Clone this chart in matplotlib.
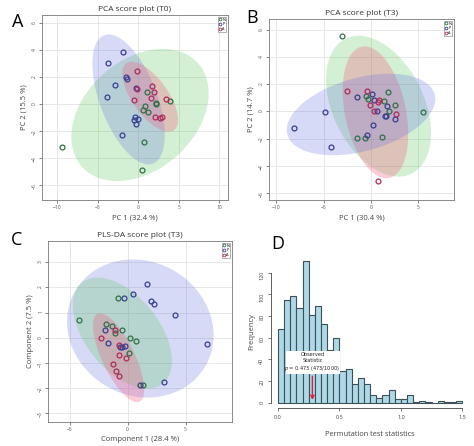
import numpy as np
import matplotlib
matplotlib.use("Agg")
import matplotlib.pyplot as plt
from matplotlib.lines import Line2D
from matplotlib.patches import Rectangle

W, H = 474, 446
plt.rcParams['font.family'] = ['Open Sans', 'DejaVu Sans']

groups = ["N", "P", "A"]
edge_cols = {"N": "#2f7046", "P": "#363e92", "A": "#ad2b58"}
fill_cols = {"N": (0.35, 0.78, 0.35, 0.26), "P": (0.35, 0.40, 0.88, 0.24), "A": (0.95, 0.35, 0.50, 0.30)}

# panel A: PCA T0 scores
a_N = [(-9.47, -3.15), (0.74, -2.78), (0.45, -4.85), (0.82, -0.15), (0.58, -0.44),
       (1.03, 0.89), (2.14, 0.10), (2.14, 0.0), (1.15, -0.59), (3.87, 0.25)]
a_P = [(-1.85, 3.87), (-3.74, 3.0), (-2.84, 1.43), (-3.87, 0.49), (-1.48, 2.0), (-1.44, 1.82),
       (-0.25, 1.18), (-0.45, -0.99), (-0.04, -1.13), (-0.53, -1.18), (-0.25, -1.48), (-2.0, -2.27)]
a_A = [(-0.2, 2.41), (1.65, 1.33), (1.89, 0.89), (1.52, 0.47), (-0.58, 0.32), (-0.12, 1.08),
       (2.1, -0.94), (3.46, 0.34), (2.67, -1.06), (2.88, -0.94)]
# ellipse: centre x, centre y, half-width, half-height, correlation
a_ell = {"N": (0.2, -0.81, 8.48, 4.88, 0.33), "P": (-1.21, 0.34, 4.47, 4.8, -0.55),
         "A": (1.46, 0.54, 3.44, 2.59, -0.66)}

# panel B: PCA T3 scores
b_N = [(-3.05, 5.51), (5.44, -0.07), (1.82, 1.42), (1.33, 0.78), (2.53, 0.49), (1.86, 0.0),
       (-0.53, 1.15), (-0.28, 0.93), (-1.44, -1.96), (-0.63, -1.96), (1.12, -1.84)]
b_P = [(-8.1, -1.25), (-4.84, -0.07), (-4.18, -2.6), (-1.51, 1.05), (0.14, 1.27), (0.35, 0.83),
       (1.68, 0.42), (0.63, 0.05), (1.47, -0.34), (1.58, -0.3), (0.25, -1.0), (-0.39, -1.72), (2.56, -0.56)]
b_A = [(-2.56, 1.47), (-0.46, 1.47), (0.88, 0.86), (0.74, 0.66), (-0.1, 0.51), (0.28, 0.0),
       (2.63, -0.22), (0.77, -5.12)]
b_ell = {"N": (0.79, 0.39, 5.53, 5.17, -0.38), "P": (-1.05, -0.22, 7.82, 2.99, 0.38),
         "A": (0.47, -0.06, 3.45, 4.84, -0.33)}

# panel C: PLS-DA T3 scores
c_N = [(-4.17, 0.69), (-0.86, 1.58), (-1.9, 0.56), (-1.32, 0.45), (-1.12, 0.2), (-0.49, 0.32),
       (0.23, -0.01), (0.75, -0.15), (0.09, -0.62), (1.32, -1.87)]
c_P = [(1.64, 2.12), (0.43, 1.74), (-0.29, 1.57), (2.01, 1.46), (2.27, 1.33), (4.05, 0.92),
       (6.84, -0.24), (3.1, -1.75), (-1.98, 0.31), (-1.67, -0.21), (-0.69, -0.37), (-0.49, -0.36),
       (-0.23, -0.33), (1.09, -1.9)]
c_A = [(-2.3, -0.01), (-1.06, 0.31), (-0.78, -0.28), (-0.75, -0.69), (-0.11, -0.82),
       (-1.24, -1.05), (-0.98, -1.31), (-0.75, -1.51)]
c_ell = {"P": (1.09, 0.365, 6.32, 2.75, -0.1), "N": (-0.45, 0.18, 4.27, 2.21, -0.5),
         "A": (-0.78, -0.8, 2.21, 1.77, -0.72)}

# panel D: permutation histogram
bin_edges = np.arange(0, 1.5001, 0.05)
counts = [68, 95, 98, 87, 131, 81, 89, 73, 49, 60, 29, 31, 17, 23, 17, 7, 4, 7, 12, 3,
          3, 7, 1, 2, 1, 0, 2, 1, 1, 2]
obs_stat = 0.28


def box(l, t, r, b):
    return [l / W, 1 - b / H, (r - l) / W, (b - t) / H]


def ellipse(ax, p, color):
    cx, cy, hx, hy, r = p
    t = np.linspace(0, 2 * np.pi, 300)
    x = cx + hx * np.cos(t)
    y = cy + hy * (r * np.cos(t) + np.sqrt(1 - r * r) * np.sin(t))
    ax.fill(x, y, color=color, lw=0, zorder=1)


def score_panel(ax, pts, ells, order, title, xl, yl, xlim, ylim, xt, yt):
    for g in order:
        ellipse(ax, ells[g], fill_cols[g])
    for g in groups:
        arr = np.array(pts[g])
        ax.plot(arr[:, 0], arr[:, 1], 'o', ms=3.5, mfc='none', mec=edge_cols[g], mew=0.9, zorder=3)
    ax.set_xlim(xlim)
    ax.set_ylim(ylim)
    ax.set_xticks(xt)
    ax.set_yticks(yt)
    ax.grid(True, color='#e3e3e3', lw=0.6, zorder=0)
    ax.set_axisbelow(True)
    ax.tick_params(labelsize=3.6, colors='#555555', length=2, width=0.5, pad=1.5)
    ax.tick_params(axis='y', labelrotation=90)
    for s in ax.spines.values():
        s.set_color('#777777')
        s.set_linewidth(0.6)
    ax.set_title(title, fontsize=6, color='#333333', pad=3)
    ax.set_xlabel(xl, fontsize=5.5, color='#444444', labelpad=3)
    ax.set_ylabel(yl, fontsize=5.5, color='#444444', labelpad=3)
    handles = [Line2D([], [], ls='none', marker='o', ms=2, mfc='none', mec=edge_cols[g], mew=0.6, label=g)
               for g in groups]
    leg = ax.legend(handles=handles, loc='upper right', fontsize=2.8, handlelength=0.6, handletextpad=0.3,
                    borderpad=0.3, labelspacing=0.15, frameon=True, fancybox=False, borderaxespad=0.4)
    leg.get_frame().set_linewidth(0.4)
    leg.get_frame().set_edgecolor('#555555')


fig = plt.figure(figsize=(W / 100, H / 100), dpi=100)

axA = fig.add_axes(box(42, 15, 228, 200))
score_panel(axA, {"N": a_N, "P": a_P, "A": a_A}, a_ell, ["N", "P", "A"], "PCA score plot (T0)",
            "PC 1 (32.4 %)", "PC 2 (15.5 %)", (-11.9, 11.07), (-7.09, 6.58),
            [-10, -5, 0, 5, 10], [-6, -4, -2, 0, 2, 4, 6])

axB = fig.add_axes(box(269, 19, 454, 200))
score_panel(axB, {"N": b_N, "P": b_P, "A": b_A}, b_ell, ["N", "A", "P"], "PCA score plot (T3)",
            "PC 1 (30.4 %)", "PC 2 (14.7 %)", (-10.74, 8.74), (-6.5, 6.79),
            [-10, -5, 0, 5], [-6, -4, -2, 0, 2, 4, 6])

axC = fig.add_axes(box(48, 241, 232, 422))
score_panel(axC, {"N": c_N, "P": c_P, "A": c_A}, c_ell, ["P", "N", "A"], "PLS-DA score plot (T3)",
            "Component 1 (28.4 %)", "Component 2 (7.5 %)", (-6.87, 9.0), (-3.36, 3.85),
            [-5, 0, 5], [-3, -2, -1, 0, 1, 2, 3])

axD = fig.add_axes(box(270.6, 255, 469.7, 408.4))
axD.bar(bin_edges[:-1], counts, width=0.05, align='edge', color='#add8e6', edgecolor='#3f4f58', lw=0.8)
axD.set_xlim(-0.06, 1.56)
axD.set_ylim(-5.24, 136.24)
axD.set_xticks([0, 0.5, 1.0, 1.5])
axD.set_xticklabels(["0.0", "0.5", "1.0", "1.5"])
axD.set_yticks([0, 20, 40, 60, 80, 100, 120])
for s in ["top", "right"]:
    axD.spines[s].set_visible(False)
axD.spines["left"].set_bounds(0, 120)
axD.spines["bottom"].set_bounds(0, 1.5)
for s in ["left", "bottom"]:
    axD.spines[s].set_color('#444444')
    axD.spines[s].set_linewidth(0.6)
axD.tick_params(labelsize=4, colors='#444444', length=2.5, width=0.5, pad=2)
axD.tick_params(axis='y', labelrotation=90)
axD.set_xlabel("Permutation test statistics", fontsize=5.3, color='#444444', labelpad=8)
axD.set_ylabel("Frequency", fontsize=5.5, color='#444444', labelpad=3)

axD.add_patch(Rectangle((0.068, 26.8), 0.44, 20.6, facecolor='white', edgecolor='none', zorder=4))
axD.text(obs_stat, 37.1, "Observed\nStatistic\n$p$ = 0.473 (473/1000)", ha='center', va='center',
         fontsize=3.6, family='DejaVu Sans', color='#222222', linespacing=1.15, zorder=5)
axD.annotate('', xy=(obs_stat, 0), xytext=(obs_stat, 27), zorder=5,
             arrowprops=dict(arrowstyle='->', color='#e0203a', lw=1.0, mutation_scale=6))

for lab, x, y in [("A", 12, 22), ("B", 246, 18), ("C", 11, 240), ("D", 271, 244)]:
    fig.text(x / W, 1 - y / H, lab, fontsize=13, color='black', va='center', ha='left')

fig.savefig("out.png", dpi=100)
